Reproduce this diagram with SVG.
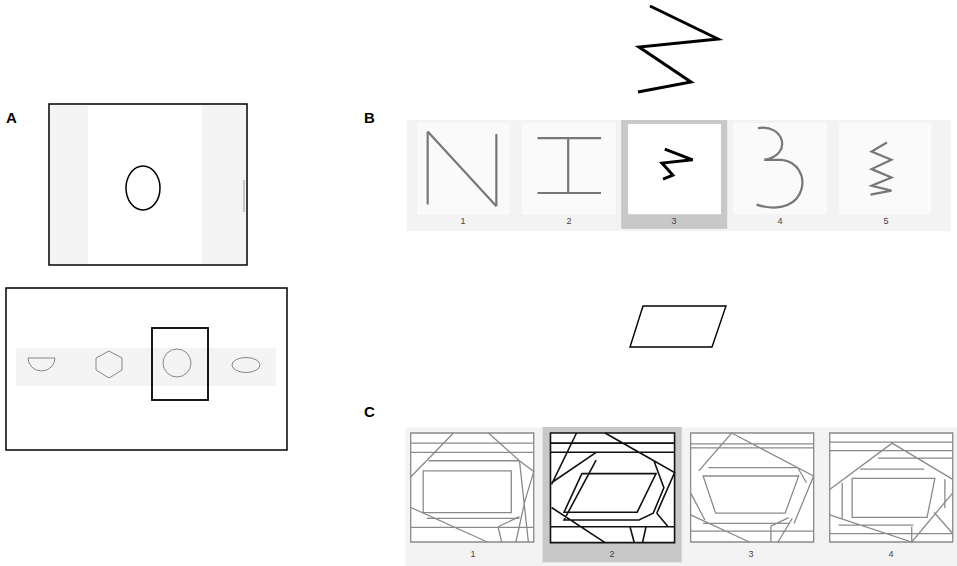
<svg xmlns="http://www.w3.org/2000/svg" width="957" height="566" viewBox="0 0 957 566">
<style>
.lbl{font-family:"Liberation Sans",Arial,sans-serif;font-weight:bold;font-size:15px;fill:#000}
.num{font-family:"Liberation Sans",Arial,sans-serif;font-size:9px;fill:#444;text-anchor:middle}
.g{fill:none;stroke:#8a8a8a;stroke-width:1.3;vector-effect:non-scaling-stroke}
.gb{fill:none;stroke:#777;stroke-width:2.2;vector-effect:non-scaling-stroke}
.k{fill:none;stroke:#111;stroke-width:1.6;vector-effect:non-scaling-stroke}
.kb{fill:none;stroke:#000;stroke-width:3;vector-effect:non-scaling-stroke;stroke-linejoin:miter}
.tile{fill:#fafafa}
.strip{fill:#f3f3f3}
.wbox{fill:#fff;stroke:#8a8a8a;stroke-width:1.3;vector-effect:non-scaling-stroke}
.kbox{fill:#fff;stroke:#111;stroke-width:1.6;vector-effect:non-scaling-stroke}
</style>
<rect width="957" height="566" fill="#fff"/>
<text class="lbl" x="6" y="123">A</text>
<text class="lbl" x="364" y="123">B</text>
<text class="lbl" x="364" y="417">C</text>

<g id="panelA-top">
<rect x="49" y="104" width="198" height="161" fill="#fff" stroke="#000" stroke-width="1.5"/>
<rect x="50" y="105" width="38" height="159" fill="#f4f4f4"/>
<rect x="202" y="105" width="44" height="159" fill="#f4f4f4"/>
<line x1="244" y1="180" x2="244" y2="212" stroke="#999" stroke-width="1"/>
<ellipse cx="143" cy="188" rx="17" ry="22" fill="none" stroke="#000" stroke-width="1.5"/>
</g>

<g id="panelA-bottom">
<rect x="6" y="288" width="281" height="162" fill="#fff" stroke="#000" stroke-width="1.5"/>
<rect x="16" y="348" width="260" height="38" fill="#f4f4f4"/>
<path d="M28,358 H55 A13.5,13 0 0 1 28,358 Z" fill="none" stroke="#888"/>
<path d="M109,351 L122,358 L122,370 L109,378 L96,370 L96,358 Z" fill="none" stroke="#888"/>
<circle cx="177" cy="363" r="14" fill="none" stroke="#888"/>
<ellipse cx="246" cy="365" rx="14" ry="7.5" fill="none" stroke="#888"/>
<rect x="152" y="328" width="56" height="72" fill="none" stroke="#000" stroke-width="1.8"/>
</g>

<g id="target-B">
<polyline class="kb" points="650,6 718,39 639,47 691,82 638,92"/>
</g>

<g id="panelB" transform="matrix(0.3487 0 0 0.332 405 110)">
<rect class="strip" x="5" y="30" width="1560" height="335"/>
<rect class="tile" x="35" y="40" width="265" height="275"/>
<rect class="tile" x="335" y="40" width="270" height="275"/>
<rect x="620" y="30" width="304" height="328" fill="#c8c8c8"/>
<rect x="640" y="42" width="266" height="272" fill="#fff"/>
<rect class="tile" x="940" y="40" width="270" height="275"/>
<rect class="tile" x="1245" y="40" width="265" height="275"/>
<path class="gb" d="M65,65 V285 M65,65 L262,290 M262,72 V290"/>
<path class="gb" d="M380,85 H562 M380,250 H562 M468,85 V250"/>
<polyline class="kb" points="745,118 825,150 737,160 768,196 740,208"/>
<path class="gb" d="M1012,55 C1085,40 1115,135 1030,150 L1080,150 C1175,160 1160,335 1008,285"/>
<polyline class="gb" points="1382,98 1338,125 1395,150 1338,178 1395,203 1338,228 1395,243 1335,255"/>
</g>
<g id="panelB-labels">
<text class="num" x="463" y="224">1</text>
<text class="num" x="569" y="224">2</text>
<text class="num" x="674" y="224">3</text>
<text class="num" x="780" y="224">4</text>
<text class="num" x="886" y="224">5</text>
</g>

<g id="target-C">
<polygon points="643,306 726,306 712,347 630,347" fill="none" stroke="#000" stroke-width="1.4"/>
</g>

<g id="panelC" transform="matrix(0.3566 0 0 0.3385 400 416.75)">
<rect class="strip" x="15" y="32" width="1560" height="410"/>
<rect x="400" y="30" width="390" height="400" fill="#c8c8c8"/>
<rect x="30" y="48" width="345" height="322" class="wbox"/>
<path class="g" d="M30,78 H375 M30,105 H375 M80,130 H335 M75,300 H335 M30,327 H375"/>
<rect class="g" x="65" y="160" width="247" height="123"/>
<path class="g" d="M30,178 L150,48 M248,48 L335,130 L375,162 L350,250 M335,130 L360,370 M30,268 L245,370 M275,325 L335,295 M275,325 L285,370 M350,250 L325,370"/>

<rect x="422" y="48" width="348" height="324" class="kbox"/>
<path class="k" d="M422,78 H770 M422,105 H770 M422,325 H770 M495,48 L425,200 M550,105 L425,195 M575,48 L712,130 L770,165 L720,285 M712,130 L740,210 L710,285 L670,305 L460,305 L550,128 M425,268 L575,372 M720,285 L752,325 M645,325 L657,372 M690,325 L680,372"/>
<polygon class="k" points="510,168 718,168 665,282 460,282"/>

<rect x="815" y="48" width="345" height="322" class="wbox"/>
<path class="g" d="M815,80 H1160 M815,92 H1160 M865,150 H1115 M850,315 H1090 M815,338 H1160 M838,160 L930,48 L1160,175 L1105,315 M1115,150 L1140,195 M815,225 L855,305 M815,290 L980,370 M1040,323 V370 M1040,323 L1090,298 M1100,300 L1060,370"/>
<polygon class="g" points="850,175 1118,175 1080,285 885,285"/>

<rect x="1205" y="48" width="345" height="322" class="wbox"/>
<path class="g" d="M1205,75 H1550 M1205,100 H1550 M1340,122 H1550 M1290,155 H1470 M1230,320 H1440 M1205,345 H1550 M1205,215 L1380,78 L1550,185 M1528,185 V270 M1240,195 V300 M1205,290 L1435,370 L1550,225 M1435,325 V370 M1498,283 L1550,345"/>
<polygon class="g" points="1268,182 1500,182 1478,297 1268,297"/>
</g>
<g id="panelC-labels">
<text class="num" x="473" y="557">1</text>
<text class="num" x="612" y="557">2</text>
<text class="num" x="751" y="557">3</text>
<text class="num" x="891" y="557">4</text>
</g>
</svg>
